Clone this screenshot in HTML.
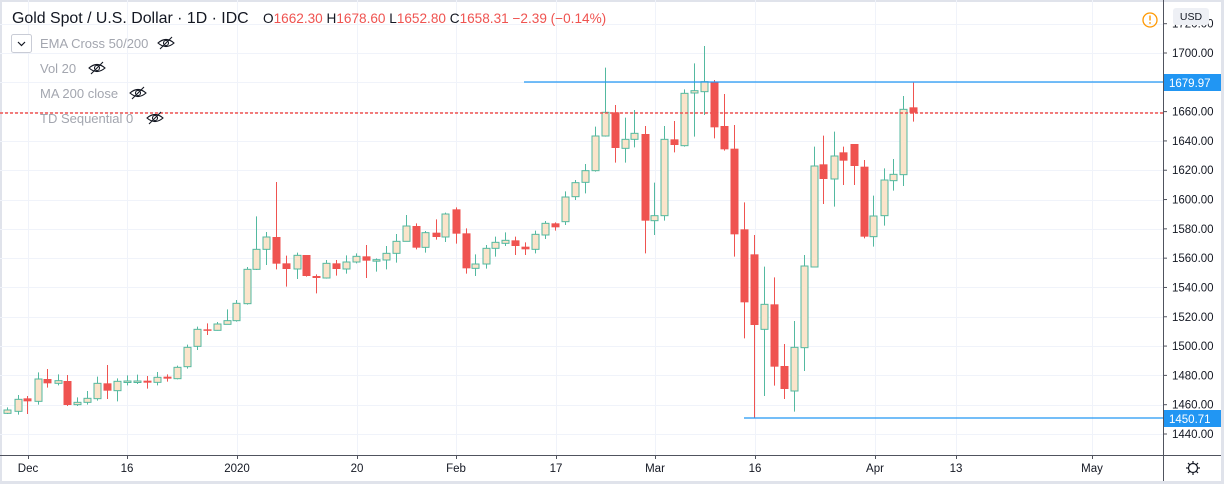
<!DOCTYPE html>
<html><head><meta charset="utf-8"><style>
html,body{margin:0;padding:0;background:#fff;}
body{width:1224px;height:484px;overflow:hidden;font-family:"Liberation Sans",sans-serif;}
svg text{font-family:"Liberation Sans",sans-serif;}
</style></head><body>
<svg id="s" width="1224" height="484" xmlns="http://www.w3.org/2000/svg">
<rect x="0" y="0" width="1224" height="484" fill="#fff"/>
<rect x="0" y="0" width="1224" height="2" fill="#e0e3eb"/>
<rect x="0" y="0" width="2" height="484" fill="#e0e3eb"/>
<rect x="1221" y="0" width="3" height="484" fill="#e0e3eb"/>
<rect x="0" y="481" width="1224" height="3" fill="#e0e3eb"/>
<g id="grid"></g>
<g id="candles"></g>
<line x1="0" y1="113" x2="1163" y2="113" stroke="#ef5350" stroke-width="1.5" stroke-dasharray="3,2"/>
<line x1="524" y1="82" x2="1163" y2="82" stroke="#2196f3" stroke-width="1.3"/>
<line x1="744" y1="418" x2="1163" y2="418" stroke="#2196f3" stroke-width="1.3"/>
<line x1="1163.5" y1="0" x2="1163.5" y2="455" stroke="#50535e" stroke-width="1"/>
<line x1="0" y1="455.5" x2="1221" y2="455.5" stroke="#50535e" stroke-width="1"/>
<line x1="1163.5" y1="455" x2="1163.5" y2="481" stroke="#50535e" stroke-width="1"/>
<g id="axis" font-size="11.5" fill="#131722"></g>
<rect x="1164" y="74" width="57" height="17" fill="#2196f3"/>
<text x="1169" y="87" font-size="11.5" fill="#fff">1679.97</text>
<rect x="1164" y="410" width="57" height="17" fill="#2196f3"/>
<text x="1169" y="423" font-size="11.5" fill="#fff">1450.71</text>
<rect x="1173" y="8" width="36" height="17" rx="3" fill="#eef0f5"/>
<text x="1191" y="20" font-size="10.5" fill="#131722" text-anchor="middle">USD</text>
<circle cx="1150" cy="20" r="7" fill="none" stroke="#ff9800" stroke-width="1.3"/>
<line x1="1150" y1="15.5" x2="1150" y2="20.5" stroke="#ff9800" stroke-width="1.4"/>
<circle cx="1150" cy="23" r="0.9" fill="#ff9800"/>
<g transform="translate(1193,468)" stroke="#131722" fill="none" stroke-width="1.2">
<circle r="4.5"/>
<line x1="0" y1="-7" x2="0" y2="-4.5"/><line x1="0" y1="7" x2="0" y2="4.5"/>
<line x1="-7" y1="0" x2="-4.5" y2="0"/><line x1="7" y1="0" x2="4.5" y2="0"/>
<line x1="-5" y1="-5" x2="-3.2" y2="-3.2"/><line x1="5" y1="5" x2="3.2" y2="3.2"/>
<line x1="-5" y1="5" x2="-3.2" y2="3.2"/><line x1="5" y1="-5" x2="3.2" y2="-3.2"/>
</g>
<text x="12" y="23" font-size="15.9" fill="#131722">Gold Spot / U.S. Dollar · 1D · IDC</text>
<text x="263" y="23" font-size="13.6"><tspan fill="#131722">O</tspan><tspan fill="#ef5350">1662.30 </tspan><tspan fill="#131722">H</tspan><tspan fill="#ef5350">1678.60 </tspan><tspan fill="#131722">L</tspan><tspan fill="#ef5350">1652.80 </tspan><tspan fill="#131722">C</tspan><tspan fill="#ef5350">1658.31 −2.39 (−0.14%)</tspan></text>
<rect x="11.5" y="34.5" width="20" height="18" rx="2" fill="#fff" stroke="#c9ccd6"/>
<path d="M18 42 L21.5 45.5 L25 42" fill="none" stroke="#131722" stroke-width="1.2"/>
<g font-size="13" fill="#a3a6af">
<text x="40" y="48">EMA Cross 50/200</text>
<text x="40" y="73">Vol 20</text>
<text x="40" y="98">MA 200 close</text>
<text x="40" y="123">TD Sequential 0</text>
</g>
<g id="eyes" fill="none" stroke="#131722" stroke-width="1.1"></g>
</svg>
<script>
var NS="http://www.w3.org/2000/svg";
function el(p,t,a){var e=document.createElementNS(NS,t);for(var k in a)e.setAttribute(k,a[k]);p.appendChild(e);return e;}
var g=document.getElementById('grid');
function py(p){return 53+(1700-p)*1.4654;}
for(var p=1440;p<=1720;p+=20){var y=Math.round(py(p))+0.5;el(g,'line',{x1:0,y1:y,x2:1163,y2:y,stroke:'#f0f3fa','stroke-width':1});}
var dates=[[28,'Dec'],[127,'16'],[237,'2020'],[357,'20'],[456,'Feb'],[556,'17'],[655,'Mar'],[755,'16'],[875,'Apr'],[956,'13'],[1092,'May']];
var ax=document.getElementById('axis');
dates.forEach(function(d){el(g,'line',{x1:d[0]+.5,y1:0,x2:d[0]+.5,y2:455,stroke:'#f0f3fa','stroke-width':1});
el(ax,'line',{x1:d[0]+.5,y1:455,x2:d[0]+.5,y2:459,stroke:'#50535e'});
var t=el(ax,'text',{x:d[0],y:472,'text-anchor':'middle'});t.textContent=d[1];});
for(var p=1440;p<=1720;p+=20){var y=py(p);if(Math.abs(y-82)<9)continue;
el(ax,'line',{x1:1163,y1:y,x2:1167,y2:y,stroke:'#50535e'});
var t=el(ax,'text',{x:1172,y:y+4});t.textContent=p.toFixed(2);}
var z3=[[22,730,720,712,732,1],[53,724,688,675,734,1],[82,685,694,678,732,0],[113,694,627,607,704,1],[142,627,640,597,653,0],[173,640,632,613,646,1],[202,633,705,615,708,0],[231,704,697,682,708,1],[262,697,685,663,704,1],[291,686,640,620,692,1],[320,640,662,585,687,0],[351,662,634,625,694,1],[380,634,633,616,646,1],[411,634,633,614,642,1],[440,632,638,618,656,0],[470,637,622,606,646,1],[500,620,626,613,635,0],[530,626,592,587,628,1],[560,590,532,524,596,1],[590,529,478,470,540,1],[620,478,480,460,495,0],[651,481,462,456,482,1],[680,463,452,418,463,1],[708,452,400,390,455,1],[740,401,298,291,404,1],[769,298,238,139,300,1],[798,238,201,186,285,1],[829,201,281,36,298,0],[859,280,297,257,350,0],[890,297,256,248,327,1],[919,255,318,255,320,0],[948,318,324,313,370,0],[978,324,280,270,326,1],[1008,280,297,270,317,0],[1038,297,276,256,311,1],[1068,276,259,250,280,1],[1098,259,272,225,324,0],[1128,271,269,265,305,1],[1158,270,250,228,298,1],[1187,250,214,192,278,1],[1218,214,168,135,214,1],[1247,168,233,160,238,0],[1276,232,188,183,248,1],[1307,188,201,148,209,0],[1336,201,132,128,216,1],[1367,118,191,112,221,0],[1397,190,295,175,311,0],[1426,295,282,253,318,1]];
var z4=[[18,672,625,615,686,1],[45,625,607,590,650,1],[74,610,601,577,618,1],[105,601,618,590,645,0],[135,620,628,607,645,0],[165,628,583,572,640,1],[195,585,550,543,597,1],[225,550,562,547,572,0],[255,545,471,454,555,1],[285,470,428,420,480,1],[315,427,392,372,460,1],[345,392,288,260,395,1],[375,288,217,83,290,1],[405,217,324,195,368,0],[435,325,298,233,368,1],[463,298,280,210,322,1],[495,282,542,258,640,0],[523,542,527,428,585,1],[552,527,298,258,542,1],[583,298,315,243,337,0],[612,317,160,148,320,1],[643,159,152,70,290,1],[672,155,125,18,225,1],[703,125,262,120,295,0],[733,258,328,162,332,0],[763,326,583,255,650,0],[792,568,787,487,895,0],[822,643,855,585,1133,0],[852,868,793,680,1068,1],[882,793,980,712,1037,0],[912,978,1047,912,1077,0],[941,1053,922,843,1115,1],[972,923,678,645,993,1],[1002,681,378,320,681,1],[1030,373,417,287,492,0],[1062,417,348,275,500,1],[1090,337,362,320,435,0],[1121,312,378,312,435,0],[1151,380,590,360,595,0],[1180,590,528,467,620,1],[1211,527,420,385,557,1],[1240,422,403,357,452,1],[1269,404,208,168,438,1],[1299,202,218,128,245,0]];
var cg=document.getElementById('candles');
function draw(c,ox,oy){var x=Math.round(c[0]/3+ox)+0.5;var o=c[1]/3+oy,cl=c[2]/3+oy,h=c[3]/3+oy,l=c[4]/3+oy;
var up=c[5];var col=up?'#53b9a0':'#ef5350';
el(cg,'line',{x1:x,y1:h,x2:x,y2:l,stroke:col,'stroke-width':1});
var t=Math.min(o,cl),b=Math.max(o,cl);if(b-t<1.5){b=t+1.5;}
if(up)el(cg,'rect',{x:x-3.5,y:t,width:7,height:b-t,fill:'#fbe4ca',stroke:col,'stroke-width':1});
else el(cg,'rect',{x:x-4,y:t,width:8,height:b-t,fill:col});}
z3.forEach(function(c){draw(c,0,170);});
z4.forEach(function(c){draw(c,480,40);});
var eg=document.getElementById('eyes');
[[166,43],[97,68],[138,93],[155,118]].forEach(function(p){var x=p[0],y=p[1];
el(eg,'path',{d:'M'+(x-8)+' '+y+' Q'+x+' '+(y-7)+' '+(x+8)+' '+y+' Q'+x+' '+(y+7)+' '+(x-8)+' '+y+'Z'});
el(eg,'circle',{cx:x,cy:y,r:2.5});
el(eg,'line',{x1:x-6,y1:y+6,x2:x+6,y2:y-6});});
</script>
</body></html>
